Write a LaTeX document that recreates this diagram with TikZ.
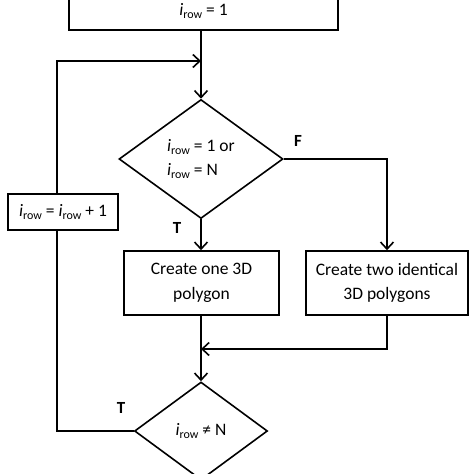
\documentclass[tikz,border=0pt]{standalone}
\usepackage{fontspec}
\setmainfont{Carlito}
\usetikzlibrary{shapes.geometric, arrows.meta}
\newcommand{\irow}{\textit{i}\raisebox{-3pt}{\fontsize{12}{12}\selectfont row}}

\begin{document}
\begin{tikzpicture}[x=1pt, y=-1pt, line width=1.6pt,
        font=\fontsize{17.5}{24.5}\selectfont,
        box/.style={draw, rectangle, align=center, inner sep=0pt},
        test/.style={draw, diamond, inner sep=0pt, align=left},
        flow/.style={-{Straight Barb[length=7pt,width=13pt]}},
        tf/.style={font=\fontsize{17}{20}\selectfont\bfseries}]
    \clip (0,0) rectangle (474,474);
    % blocks
    \node [box, minimum width=269pt, minimum height=38pt, anchor=south] (init) at (203.5,31) {\irow{} = 1};
    \node [test, aspect=1.38, minimum width=164pt, minimum height=119pt] (cond) at (201,159) {\irow{} = 1 or\\\irow{} = N};
    \node [box, minimum width=155pt, minimum height=64pt] (one) at (201.5,283) {Create one 3D\\polygon};
    \node [box, minimum width=162pt, minimum height=64pt] (two) at (387,283) {Create two identical\\3D polygons};
    \node [box, minimum width=110pt, minimum height=36pt] (incr) at (63,212) {\irow{} = \irow{} + 1};
    \node [test, aspect=1.36, minimum width=133pt, minimum height=98pt] (chk) at (201,431) {\irow{} ≠ N};
    % joins
    \coordinate (join1) at (201,61);
    \coordinate (join2) at (201,349);
    % connectors
    \draw [flow] (join1 |- init.south) -- (cond.north);
    \draw [flow] ([xshift=-6pt]incr.north) |- (join1);
    \draw (chk.west) -| ([xshift=-6pt]incr.south);
    \draw [flow] (cond.south) -- (one.north -| cond.south);
    \draw [flow] (cond.east) -| (two.north);
    \draw [flow] (one.south -| chk.north) -- (chk.north);
    \draw [flow] (two.south) |- (join2);
    % labels
    \node [tf] (f1) at (298,141) {F};
    \node [tf] (t1) at (177,228) {T};
    \node [tf] (t2) at (121,408) {T};
\end{tikzpicture}
\end{document}
